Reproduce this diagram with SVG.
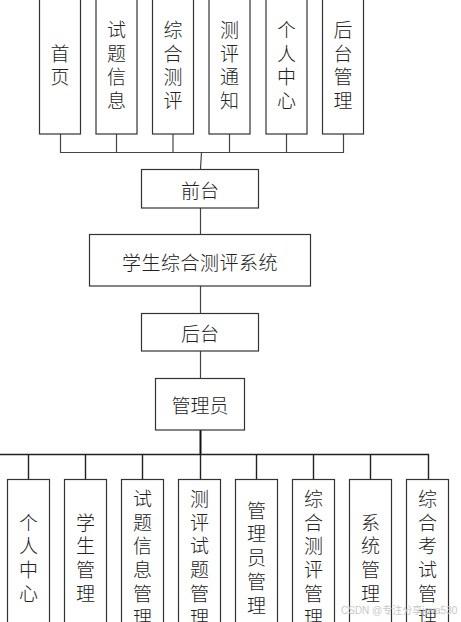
<svg xmlns="http://www.w3.org/2000/svg" width="461" height="622" viewBox="0 0 461 622">
<style>
.box{fill:#fff;stroke:#333;stroke-width:1.2}
.t{font-family:"Noto Sans CJK SC","Noto Sans CJK JP",sans-serif;font-size:19px;fill:#222;text-anchor:middle;dominant-baseline:central;font-weight:300}
.v{writing-mode:vertical-rl;letter-spacing:4.8px}
.ln{stroke:#444;stroke-width:1.2;fill:none}
.wm{font-family:"Liberation Sans","Noto Sans CJK SC",sans-serif;font-size:10px;fill:#c8c8c8}
</style>
<rect width="461" height="622" fill="#fff"/>
<g id="connectors">
<path class="ln" d="M60.5 134V152.5H343.5V134M116.5 134V152.5M173 134V152.5M229.5 134V152.5M286.5 134V152.5"/>
<path class="ln" d="M201.5 152.5L200.5 169"/>
<path class="ln" d="M200.5 208V234M200.5 286V313M200.5 351V378"/>
<path stroke="#111" stroke-width="2" d="M200.5 430V454.5"/>
<path stroke="#222" stroke-width="1.4" fill="none" d="M-2 454.5H428.5V479M28.5 454.5V479M85.5 454.5V479M142.5 454.5V479M200.5 454.5V479M256.5 454.5V479M313.5 454.5V479M370.5 454.5V479"/>
</g>
<g id="n-shouye"><rect class="box" x="39.5" y="-5" width="41" height="139"/><text class="t v" x="60" y="67.7">首页</text></g>
<g id="n-shiti"><rect class="box" x="96" y="-5" width="41" height="139"/><text class="t v" x="116.5" y="67.7">试题信息</text></g>
<g id="n-zonghe"><rect class="box" x="152.5" y="-5" width="41" height="139"/><text class="t v" x="173" y="67.7">综合测评</text></g>
<g id="n-tongzhi"><rect class="box" x="209" y="-5" width="41" height="139"/><text class="t v" x="229.5" y="67.7">测评通知</text></g>
<g id="n-geren"><rect class="box" x="266" y="-5" width="41" height="139"/><text class="t v" x="286.5" y="67.7">个人中心</text></g>
<g id="n-houtaiguanli"><rect class="box" x="322.5" y="-5" width="41" height="139"/><text class="t v" x="343" y="67.7">后台管理</text></g>
<g id="n-qiantai"><rect class="box" x="141.5" y="169.5" width="117" height="38.5"/><text class="t" x="200" y="189">前台</text></g>
<g id="n-system"><rect class="box" x="89.5" y="234.5" width="221" height="51.5"/><text class="t" x="200" y="261" font-size="19.5" letter-spacing="0.5">学生综合测评系统</text></g>
<g id="n-houtai"><rect class="box" x="141.5" y="313.5" width="117" height="37.5"/><text class="t" x="200" y="332.5">后台</text></g>
<g id="n-admin"><rect class="box" x="155.5" y="378.5" width="89" height="51.5"/><text class="t" x="200" y="404.5">管理员</text></g>
<g id="b-geren"><rect class="box" x="7.5" y="479.5" width="42" height="160"/><text class="t v" x="28.5" y="560.4">个人中心</text></g>
<g id="b-xuesheng"><rect class="box" x="64.5" y="479.5" width="42" height="160"/><text class="t v" x="85.5" y="560.4">学生管理</text></g>
<g id="b-shiti"><rect class="box" x="121.5" y="479.5" width="42" height="160"/><text class="t v" x="142.5" y="560.4">试题信息管理</text></g>
<g id="b-ceping"><rect class="box" x="178.5" y="479.5" width="42" height="160"/><text class="t v" x="199.5" y="560.4">测评试题管理</text></g>
<g id="b-admin"><rect class="box" x="235.5" y="479.5" width="42" height="160"/><text class="t v" x="256.5" y="560.4">管理员管理</text></g>
<g id="b-zonghe"><rect class="box" x="292.5" y="479.5" width="42" height="160"/><text class="t v" x="313.5" y="560.4">综合测评管理</text></g>
<g id="b-xitong"><rect class="box" x="349.5" y="479.5" width="42" height="160"/><text class="t v" x="370.5" y="560.4">系统管理</text></g>
<g id="b-kaoshi"><rect class="box" x="406.5" y="479.5" width="42" height="160"/><text class="t v" x="427.5" y="560.4">综合考试管理</text></g>
<text class="wm" x="341" y="614">CSDN @专注分享java530</text>
</svg>
